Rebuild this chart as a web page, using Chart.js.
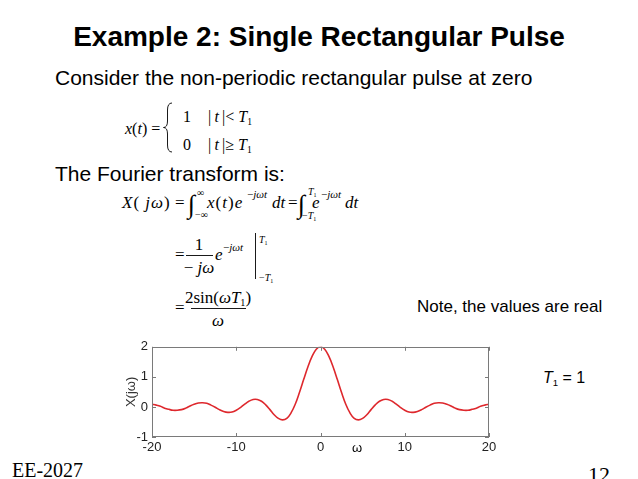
<!DOCTYPE html>
<html>
<head>
<meta charset="utf-8">
<script src="https://cdn.jsdelivr.net/npm/chart.js@4.4.1/dist/chart.umd.min.js"></script>
<style>
html, body { margin: 0; padding: 0; background: #fff; }
#slide { position: relative; width: 638px; height: 479px; overflow: hidden; background: #fff; }
.t { position: absolute; line-height: 1; white-space: nowrap; color: #000; }
.sans { font-family: "Liberation Sans", Arial, sans-serif; }
.serif { font-family: "Liberation Serif", "Times New Roman", serif; }
.t sub { font-size: 0.6em; vertical-align: -0.3em; line-height: 0; }
.wide { letter-spacing: 1px; }
#plot { position: absolute; left: 110px; top: 335px; width: 395px; height: 130px; }
#lines { position: absolute; left: 0; top: 0; }
</style>
</head>
<body>
<div id="slide">
  <svg id="lines" width="638" height="479">
    <g fill="none" stroke="#000" stroke-width="0.9">
      <path d="M172,103 Q167.5,103 167.5,110 L167.5,121 Q167.5,127.5 163.5,127.5 Q167.5,127.5 167.5,134 L167.5,145 Q167.5,152 172,152"/>
      <line x1="186" y1="255.5" x2="213" y2="255.5"/>
      <line x1="255.5" y1="233" x2="255.5" y2="279"/>
      <line x1="191" y1="308.5" x2="246" y2="308.5"/>
    </g>
  </svg>
  <div id="plot"><canvas id="pulseChart"></canvas></div>
</div>
<script>
// values, step 0.5 on omega
const omega = [-20, -19.5, -19, -18.5, -18, -17.5, -17, -16.5, -16, -15.5,
  -15, -14.5, -14, -13.5, -13, -12.5, -12, -11.5, -11, -10.5,
  -10, -9.5, -9, -8.5, -8, -7.5, -7, -6.5, -6, -5.5,
  -5, -4.5, -4, -3.5, -3, -2.5, -2, -1.5, -1, -0.5,
  0, 0.5, 1, 1.5, 2, 2.5, 3, 3.5, 4, 4.5,
  5, 5.5, 6, 6.5, 7, 7.5, 8, 8.5, 9, 9.5,
  10, 10.5, 11, 11.5, 12, 12.5, 13, 13.5, 14, 14.5,
  15, 15.5, 16, 16.5, 17, 17.5, 18, 18.5, 19, 19.5, 20];
const xValues = [0.09, 0.06, 0.02, -0.04, -0.08, -0.11, -0.11, -0.09, -0.04, 0.03,
  0.09, 0.13, 0.14, 0.12, 0.06, -0.01, -0.09, -0.15, -0.18, -0.17,
  -0.11, -0.02, 0.09, 0.19, 0.25, 0.25, 0.19, 0.07, -0.09, -0.26,
  -0.38, -0.43, -0.38, -0.20, 0.09, 0.48, 0.91, 1.33, 1.68, 1.92,
  2.00, 1.92, 1.68, 1.33, 0.91, 0.48, 0.09, -0.20, -0.38, -0.43,
  -0.38, -0.26, -0.09, 0.07, 0.19, 0.25, 0.25, 0.19, 0.09, -0.02,
  -0.11, -0.17, -0.18, -0.15, -0.09, -0.01, 0.06, 0.12, 0.14, 0.13,
  0.09, 0.03, -0.04, -0.09, -0.11, -0.11, -0.08, -0.04, 0.02, 0.06, 0.09];
const xTicks = [-20, -10, 0, 10, 20];
const yTicks = [-1, 0, 1, 2];

const slide = document.getElementById('slide');

// place a piece of text by its left edge (or centre) and baseline
function put(html, x, base, size, cls, center) {
    const s = document.createElement('span');
    s.className = 't ' + (cls || 'serif');
    s.innerHTML = html;
    s.style.fontSize = size + 'px';
    s.style.top = (base - 0.84 * size) + 'px';
    s.style.left = x + 'px';
    if (center) s.style.transform = 'translateX(-50%)';
    slide.append(s);
}

const T1 = '<i>T</i><sub>1</sub>';

put('<b>Example 2: Single Rectangular Pulse</b>', 319, 47, 28, 'sans', true);
put('Consider the non-periodic rectangular pulse at zero', 55, 85, 21, 'sans');
put('The Fourier transform is:', 55, 181, 21, 'sans');
put('Note, the values are real', 417, 312, 17, 'sans');
put('<i>T</i><sub>1</sub> = 1', 543, 383, 16, 'sans');
put('EE-2027', 12, 477, 20);
put('12', 588, 482, 22);

// x(t) piecewise
put('<i>x</i>(<i>t</i>) =', 125, 134, 16);
put('1', 183, 122, 16);
put('|&thinsp;<i>t</i>&thinsp;|&lt; ' + T1, 208, 122, 16);
put('0', 183, 150, 16);
put('|&thinsp;<i>t</i>&thinsp;|&ge; ' + T1, 208, 150, 16);

// X(jw) line 1
put('<i>X</i>( <i>j&omega;</i>)', 122, 208, 17, 'serif wide');
put('=', 175, 208, 17);
put('&int;', 188, 214, 26);
put('&infin;', 197, 196, 10);
put('&minus;&infin;', 195, 218, 10);
put('<i>x</i>(<i>t</i>)<i>e</i>', 207, 208, 17, 'serif wide');
put('&minus;<i>j&omega;t</i>', 247, 198, 11);
put('<i>dt</i>', 272, 208, 17);
put('=', 288, 208, 17);
put('&int;', 298, 214, 26);
put(T1, 308, 195, 10);
put('&minus;' + T1, 302, 219, 10);
put('<i>e</i>', 312, 208, 17);
put('&minus;<i>j&omega;t</i>', 321, 198, 11);
put('<i>dt</i>', 345, 208, 17);

// line 2
put('=', 175, 260, 17);
put('1', 199, 250, 17, 'serif', true);
put('&minus; <i>j&omega;</i>', 199, 273, 17, 'serif', true);
put('<i>e</i>', 215, 260, 17);
put('&minus;<i>j&omega;t</i>', 223, 251, 11);
put(T1, 259, 243, 10);
put('&minus;' + T1, 259, 281, 10);

// line 3
put('=', 175, 313, 17);
put('2sin(<i>&omega;T</i><sub>1</sub>)', 218, 303, 17, 'serif', true);
put('<i>&omega;</i>', 218, 326, 17, 'serif', true);

// omega axis label sits on the tick-label row
put('&omega;', 357, 452, 13, 'sans', true);

const points = omega.map((w, i) => ({ x: w, y: xValues[i] }));

const frame = {
    id: 'frame',
    afterDatasetsDraw(chart) {
        const { ctx, chartArea: a, scales: { x, y } } = chart;
        ctx.save();
        ctx.strokeStyle = '#7a7a7a';
        ctx.lineWidth = 1;
        ctx.beginPath();
        for (const v of xTicks) {
            const px = Math.round(x.getPixelForValue(v)) + 0.5;
            ctx.moveTo(px, a.bottom); ctx.lineTo(px, a.bottom - 4);
            ctx.moveTo(px, a.top); ctx.lineTo(px, a.top + 4);
        }
        for (const v of yTicks) {
            const py = Math.round(y.getPixelForValue(v)) + 0.5;
            ctx.moveTo(a.left, py); ctx.lineTo(a.left + 4, py);
            ctx.moveTo(a.right, py); ctx.lineTo(a.right - 4, py);
        }
        ctx.stroke();
        ctx.strokeRect(Math.round(a.left) + 0.5, Math.round(a.top) + 0.5,
            Math.round(a.right - a.left) - 1, Math.round(a.bottom - a.top) - 1);
        ctx.restore();
    }
};

var ctx = document.getElementById('pulseChart').getContext('2d');
// eslint-disable-next-line no-undef
new Chart(ctx, {
    type: 'line',
    data: {
        datasets: [{
            data: points,
            borderColor: 'rgba(222, 40, 45, 1)',
            borderWidth: 1.6,
            pointRadius: 0,
            tension: 0.4,
            fill: false
        }]
    },
    options: {
        responsive: true,
        maintainAspectRatio: false,
        animation: false,
        layout: { padding: { top: 8, right: 16, left: 0, bottom: 0 } },
        plugins: { legend: { display: false }, tooltip: { enabled: false } },
        scales: {
            x: {
                type: 'linear',
                min: -20,
                max: 20,
                afterBuildTicks: (s) => { s.ticks = xTicks.map(v => ({ value: v })); },
                afterFit: (s) => { s.height = 28; },
                grid: { display: false, drawTicks: false },
                border: { display: false },
                ticks: { padding: 3, color: '#222', font: { family: 'Liberation Sans', size: 13 }, maxRotation: 0 }
            },
            y: {
                min: -1,
                max: 2,
                afterBuildTicks: (s) => { s.ticks = yTicks.map(v => ({ value: v })); },
                afterFit: (s) => { s.width = 42; },
                grid: { display: false, drawTicks: false },
                border: { display: false },
                ticks: { padding: 4, color: '#222', font: { family: 'Liberation Sans', size: 13 } },
                title: {
                    display: true,
                    text: 'X(jω)',
                    color: '#333',
                    padding: { top: 14, bottom: 0 },
                    font: { family: 'Liberation Sans', size: 13 }
                }
            }
        }
    },
    plugins: [frame]
});
</script>
</body>
</html>
